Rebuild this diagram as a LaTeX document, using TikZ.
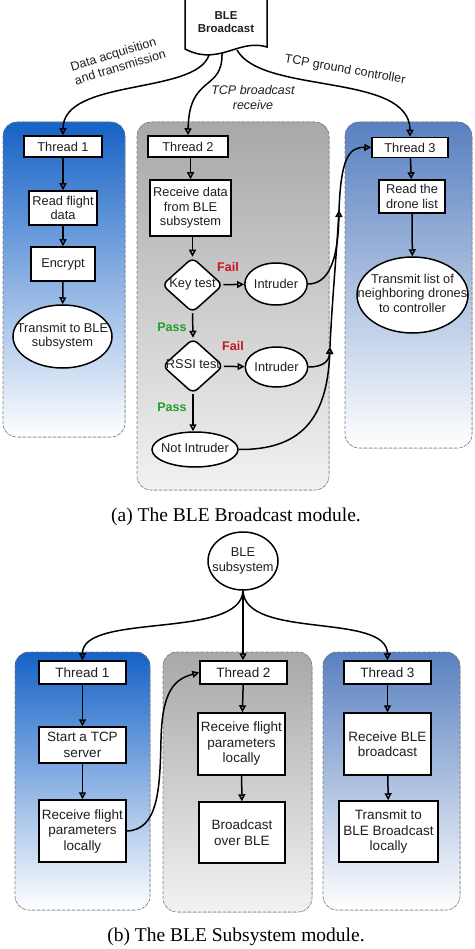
\documentclass[tikz,border=0pt]{standalone}
\usepackage{fontspec}
\setmainfont{Liberation Serif}
\setsansfont{Liberation Sans}
\usetikzlibrary{shapes.geometric,arrows.meta,calc}
\definecolor{ponetop}{RGB}{22,98,198}
\definecolor{pthreetop}{RGB}{88,128,192}
\definecolor{pgraytop}{RGB}{168,168,168}
\definecolor{pgraybot}{RGB}{242,242,242}
\definecolor{failred}{RGB}{200,20,30}
\definecolor{passgreen}{RGB}{30,160,40}
\definecolor{txt}{RGB}{30,30,30}
\newcommand{\fitbox}[2]{\makebox[#1][c]{\begin{tabular}{@{}c@{}}#2\end{tabular}}}
\begin{document}
\begin{tikzpicture}[x=1pt,y=-1pt,
  arr/.style={line width=1.5pt, -{Triangle[open,length=7pt,width=7pt]}},
  ln/.style={line width=1.5pt},
  panel/.style={rounded corners=14pt},
  pborder/.style={draw=gray, densely dashed, line width=0.6pt, rounded corners=14pt},
  sfa/.style={font=\sffamily\fontsize{12.8}{14.5}\selectfont, text=txt, align=center},
  sfb/.style={font=\sffamily\fontsize{13.5}{15.5}\selectfont, text=txt, align=center},
  boxa/.style={draw, line width=1.5pt, fill=white, rectangle, inner sep=1pt, sfa},
  boxb/.style={draw, line width=1.5pt, fill=white, rectangle, inner sep=1pt, sfb},
  ella/.style={draw, line width=1.5pt, fill=white, ellipse, inner sep=0pt, sfa},
  diam/.style={draw, line width=1.5pt, fill=white, diamond, aspect=1.1, inner sep=0pt, rounded corners=6pt, minimum width=61pt, minimum height=55pt, sfa},
  lbl/.style={font=\sffamily\fontsize{12.5}{14.5}\selectfont, text=txt, align=center},
  fail/.style={font=\sffamily\bfseries\fontsize{12.5}{14}\selectfont, text=failred},
  pass/.style={font=\sffamily\bfseries\fontsize{12.5}{14}\selectfont, text=passgreen},
  captxt/.style={font=\fontsize{19.5}{22}\selectfont, text=black}
]
\useasboundingbox (0,0) rectangle (474,949);

% ---------- panels (a)
\fill[panel, top color=ponetop, bottom color=white] (3,122) rectangle (125,437);
\draw[pborder] (3,122) rectangle (125,437);
\fill[panel, top color=pgraytop, bottom color=pgraybot] (137,122) rectangle (329,490);
\draw[pborder] (137,122) rectangle (329,490);
\fill[panel, top color=pthreetop, bottom color=white] (345,122) rectangle (472,448);
\draw[pborder] (345,122) rectangle (472,448);

% ---------- BLE Broadcast document shape
\draw[line width=1.5pt, fill=white] (185,-2) -- (185,49)
  .. controls (195,54) and (205,57) .. (222,53)
  .. controls (238,49) and (250,42) .. (267,47) -- (267,-2);
\node[font=\sffamily\bfseries\fontsize{11.5}{13.5}\selectfont, text=txt, align=center] (bb) at (226,22) {BLE\\Broadcast};
\coordinate (bb1) at (209,55);
\coordinate (bb2) at (222,53);
\coordinate (bb3) at (237,50);

% ---------- nodes (a)
\node[boxa, minimum width=78pt, minimum height=21pt] (t1) at (63,146.5) {Thread 1};
\node[boxa, minimum width=68pt, minimum height=34pt] (rf) at (63,208) {Read flight\\data};
\node[boxa, minimum width=64pt, minimum height=34pt] (en) at (63,264) {Encrypt};
\node[ella, minimum width=99pt, minimum height=63pt] (tb) at (62.5,336.5) {\fitbox{60pt}{Transmit to BLE\\subsystem}};

\node[boxa, minimum width=80pt, minimum height=21pt] (t2) at (188,146.5) {Thread 2};
\node[boxa, minimum width=81pt, minimum height=56pt] (rd) at (190.5,208) {Receive data\\from BLE\\subsystem};
\node[diam] (kt) at (192.5,285) {\fitbox{36pt}{Key test}};
\node[diam] (rt) at (193,366) {\fitbox{36pt}{RSSI test}};
\node[ella, minimum width=58pt, minimum height=42pt] (in1) at (276,284) {Intruder};
\node[ella, minimum width=59pt, minimum height=40pt] (in2) at (276.5,367) {Intruder};
\node[ella, minimum width=86pt, minimum height=35pt] (ni) at (195,449.5) {\fitbox{55pt}{Not Intruder}};

\node[boxa, minimum width=76pt, minimum height=20pt] (t3) at (410,147.5) {Thread 3};
\node[boxa, minimum width=66pt, minimum height=33pt] (dl) at (412,196.5) {Read the\\drone list};
\node[ella, minimum width=111pt, minimum height=76pt] (tl) at (412.5,295) {\fitbox{70pt}{Transmit list of\\neighboring drones\\to controller}};

\node[fail] (f1) at (228,267) {Fail};
\node[fail] (f2) at (233,346) {Fail};
\node[pass] (p1) at (172,327) {Pass};
\node[pass] (p2) at (172,407) {Pass};

% ---------- labels (a)
\node[lbl, align=left, rotate=17] (la) at (118,60) {Data acquisition\\and transmission};
\node[lbl, font=\sffamily\itshape\fontsize{12.5}{15}\selectfont] (lb) at (253,98) {TCP broadcast\\receive};
\node[lbl, rotate=-10] (lc) at (345,70) {TCP ground controller};

% ---------- connectors (a)
\draw[arr] (bb1) .. controls (196,95) and (63,78) .. (t1.north);
\draw[arr] (bb2) .. controls (223,92) and (189,74) .. (t2.north);
\draw[arr] (bb3) .. controls (262,95) and (410,72) .. (t3.north);

\draw[arr] (t1) -- (rf);
\draw[arr] (rf) -- (en);
\draw[arr] (en) -- (tb);

\draw[arr] (t2.south -| rd.north) -- (rd.north);
\draw[arr] (rd.south -| kt.north) -- (kt.north);
\draw[arr] (kt) -- (in1);
\draw[arr] (kt.south) -- (rt.north);
\draw[arr] (rt) -- (in2);
\draw[arr] (rt.south) -- (ni.north -| rt.south);

\coordinate (j1) at (339,210);
\coordinate (j2) at (330,347);
\draw[arr] (in1.east) .. controls (328,284) and (338,262) .. (j1);
\draw[arr] (in2.east) .. controls (322,367) and (329,362) .. (j2);
\draw[arr] (ni.east) .. controls (300,450) and (327,420) .. (j2);
\draw[ln] (j2) .. controls (332,300) and (337,250) .. (j1);
\draw[arr] (j1) .. controls (341,160) and (348,147) .. (t3.west);

\draw[arr] (t3) -- (dl);
\draw[arr] (dl) -- (tl);

\node[captxt] (capa) at (236,517) {(a) The BLE Broadcast module.};

% ---------- panels (b)
\fill[panel, top color=ponetop, bottom color=white] (15,652) rectangle (150,910);
\draw[pborder] (15,652) rectangle (150,910);
\fill[panel, top color=pgraytop, bottom color=pgraybot] (163,652) rectangle (312,912);
\draw[pborder] (163,652) rectangle (312,912);
\fill[panel, top color=pthreetop, bottom color=white] (323,652) rectangle (460,910);
\draw[pborder] (323,652) rectangle (460,910);

% ---------- nodes (b)
\node[ella, minimum width=70pt, minimum height=58pt] (bs) at (243,561) {\fitbox{40pt}{BLE\\subsystem}};

\node[boxb, minimum width=87pt, minimum height=23pt] (t1b) at (82.5,672.5) {Thread 1};
\node[boxb, minimum width=87pt, minimum height=36pt] (st) at (82.5,745) {Start a TCP\\server};
\node[boxb, minimum width=87pt, minimum height=62pt] (rb1) at (82.5,831) {Receive flight\\parameters\\locally};

\node[boxb, minimum width=87pt, minimum height=23pt] (t2b) at (243.5,672.5) {Thread 2};
\node[boxb, minimum width=87pt, minimum height=62pt] (rb2) at (241.5,744) {Receive flight\\parameters\\locally};
\node[boxb, minimum width=86pt, minimum height=61pt] (bo) at (242,832.5) {Broadcast\\over BLE};

\node[boxb, minimum width=87pt, minimum height=23pt] (t3b) at (387.5,672.5) {Thread 3};
\node[boxb, minimum width=87pt, minimum height=62pt] (rbb) at (387.5,744) {Receive BLE\\broadcast};
\node[boxb, minimum width=99pt, minimum height=61pt] (tbl) at (388.5,831.5) {Transmit to\\BLE Broadcast\\locally};

% ---------- connectors (b)
\draw[arr] (bs.south) .. controls (241,640) and (82,612) .. (t1b.north);
\draw[arr] (bs.south) -- (t2b.north -| bs.south);
\draw[arr] (bs.south) .. controls (245,640) and (387,612) .. (t3b.north);

\draw[arr] (t1b) -- (st);
\draw[arr] (st) -- (rb1);
\draw[arr] (rb1.east) .. controls (158,830) and (160,790) .. (161,740)
  .. controls (162,690) and (175,679) .. (t2b.west);
\draw[arr] (t2b) -- (rb2);
\draw[arr] (rb2) -- (bo);
\draw[arr] (t3b) -- (rbb);
\draw[arr] (rbb) -- (tbl);

\node[captxt] (capb) at (236,937) {(b) The BLE Subsystem module.};
\end{tikzpicture}
\end{document}
